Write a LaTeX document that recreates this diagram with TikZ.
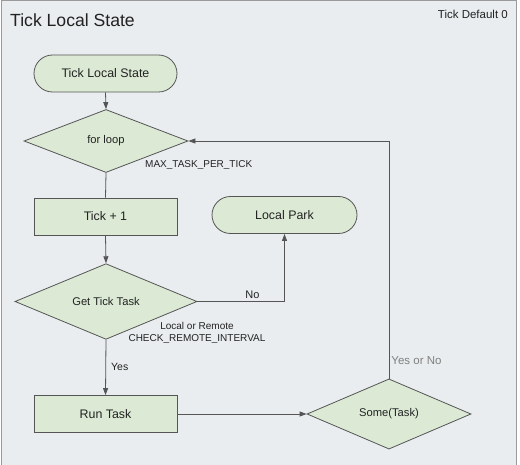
\documentclass[tikz,border=0pt]{standalone}
\usepackage{fontspec}
\setmainfont{Liberation Sans}
\usetikzlibrary{shapes.geometric,arrows.meta}
\definecolor{bgc}{HTML}{E9EDEF}
\definecolor{framec}{HTML}{9A9A9A}
\definecolor{nodefill}{HTML}{DCEAD5}
\definecolor{nodeline}{HTML}{555555}
\definecolor{txt}{HTML}{222222}
\definecolor{graytxt}{HTML}{808080}
\tikzset{
  box/.style={draw=nodeline, fill=nodefill, line width=0.8pt, minimum width=143pt, minimum height=37pt, inner sep=0pt, text=txt, font=\fontsize{12.4}{14}\selectfont},
  term/.style={box, rounded corners=18.5pt},
  dia/.style={diamond, draw=nodeline, fill=nodefill, line width=0.8pt, minimum width=164pt, minimum height=63pt, inner sep=0pt, text=txt, font=\fontsize{11.2}{13}\selectfont},
  lbl/.style={text=txt, inner sep=0pt, font=\fontsize{10}{12}\selectfont},
  conn/.style={draw=nodeline, line width=0.8pt},
  arr/.style={conn, -{Triangle[length=7pt,width=5pt]}},
}
\begin{document}
\begin{tikzpicture}[x=1pt,y=-1pt]
\useasboundingbox (0,0) rectangle (520,465);
\fill[white] (0,0) rectangle (520,465);
\filldraw[fill=bgc, draw=framec, line width=1pt] (1,470) -- (1,1) -- (516,1) -- (516,470);
\node[anchor=west, inner sep=0pt, text=txt, font=\fontsize{17.6}{20}\selectfont] (title) at (10,20) {Tick Local State};
\node[anchor=east, inner sep=0pt, text=txt, font=\fontsize{11.5}{13}\selectfont] (deflt) at (508,14) {Tick Default 0};

\node[term] (start) at (105.5,73.5) {Tick Local State};
\node[dia] (loop) at (106,141) {for loop};
\node[box] (tick) at (105.5,216.5) {Tick + 1};
\node[dia, minimum width=182pt] (get) at (106,301.5) {Get Tick Task};
\node[term, minimum width=145pt] (park) at (284.5,215) {Local Park};
\node[box] (run) at (105.5,414) {Run Task};
\node[dia] (some) at (389,414) {Some(Task)};

\node[lbl, anchor=west] (maxl) at (145,165) {MAX\_TASK\_PER\_TICK};
\node[lbl, align=center] (remote) at (197,333) {Local or Remote\\CHECK\_REMOTE\_INTERVAL};

\draw[arr] (start.south) -- (loop.north);
\draw[conn] (loop.south) -- (tick.north);
\draw[arr] (tick.south) -- (get.north);
\draw[arr] (get.east) -| node[pos=0.316, above=2pt, lbl, font=\fontsize{11}{13}\selectfont] {No} (park.south);
\draw[arr] (get.south) -- node[pos=0.5, right=5pt, lbl, font=\fontsize{10.5}{12}\selectfont] {Yes} (run.north);
\draw[arr] (run.east) -- (some.west);
\draw[arr] (some.north) |- node[pos=0.037, right=2pt, lbl, text=graytxt, font=\fontsize{11.5}{13}\selectfont] {Yes or No} (loop.east);
\end{tikzpicture}
\end{document}
